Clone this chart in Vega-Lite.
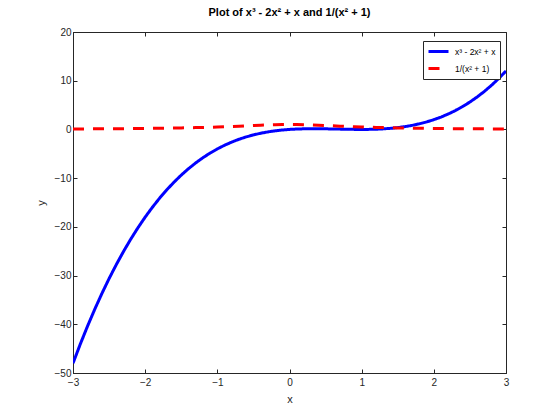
{
  "$schema": "https://vega.github.io/schema/vega-lite/v6.json",
  "width": 433,
  "height": 341,
  "autosize": {"type": "none"},
  "padding": {"left": 73, "top": 32, "right": 54, "bottom": 47},
  "background": "white",
  "title": {
    "text": "Plot of x³ - 2x² + x and 1/(x² + 1)",
    "font": "Liberation Sans",
    "fontSize": 11,
    "fontWeight": "bold",
    "color": "black",
    "anchor": "middle",
    "baseline": "alphabetic",
    "offset": 0
  },
  "config": {
    "view": {"stroke": "#262626", "strokeWidth": 1},
    "axis": {
      "grid": false,
      "domainColor": "#262626",
      "tickColor": "#262626",
      "labelColor": "#262626",
      "titleColor": "#262626",
      "labelFont": "Liberation Sans",
      "titleFont": "Liberation Sans",
      "labelFontSize": 10,
      "titleFontSize": 11,
      "titleFontWeight": "normal",
      "labelFlush": false,
      "tickSize": -4
    }
  },
  "data": {
    "values": [
      {"x": -3.0, "cubic": -48, "recip": 0.1},
      {"x": -2.9, "cubic": -44.109, "recip": 0.106},
      {"x": -2.8, "cubic": -40.432, "recip": 0.113},
      {"x": -2.7, "cubic": -36.963, "recip": 0.121},
      {"x": -2.6, "cubic": -33.696, "recip": 0.129},
      {"x": -2.5, "cubic": -30.625, "recip": 0.138},
      {"x": -2.4, "cubic": -27.744, "recip": 0.148},
      {"x": -2.3, "cubic": -25.047, "recip": 0.159},
      {"x": -2.2, "cubic": -22.528, "recip": 0.171},
      {"x": -2.1, "cubic": -20.181, "recip": 0.185},
      {"x": -2.0, "cubic": -18, "recip": 0.2},
      {"x": -1.9, "cubic": -15.979, "recip": 0.217},
      {"x": -1.8, "cubic": -14.112, "recip": 0.236},
      {"x": -1.7, "cubic": -12.393, "recip": 0.257},
      {"x": -1.6, "cubic": -10.816, "recip": 0.281},
      {"x": -1.5, "cubic": -9.375, "recip": 0.308},
      {"x": -1.4, "cubic": -8.064, "recip": 0.338},
      {"x": -1.3, "cubic": -6.877, "recip": 0.372},
      {"x": -1.2, "cubic": -5.808, "recip": 0.41},
      {"x": -1.1, "cubic": -4.851, "recip": 0.452},
      {"x": -1.0, "cubic": -4, "recip": 0.5},
      {"x": -0.9, "cubic": -3.249, "recip": 0.552},
      {"x": -0.8, "cubic": -2.592, "recip": 0.61},
      {"x": -0.7, "cubic": -2.023, "recip": 0.671},
      {"x": -0.6, "cubic": -1.536, "recip": 0.735},
      {"x": -0.5, "cubic": -1.125, "recip": 0.8},
      {"x": -0.4, "cubic": -0.784, "recip": 0.862},
      {"x": -0.3, "cubic": -0.507, "recip": 0.917},
      {"x": -0.2, "cubic": -0.288, "recip": 0.962},
      {"x": -0.1, "cubic": -0.121, "recip": 0.99},
      {"x": 0.0, "cubic": 0, "recip": 1},
      {"x": 0.1, "cubic": 0.081, "recip": 0.99},
      {"x": 0.2, "cubic": 0.128, "recip": 0.962},
      {"x": 0.3, "cubic": 0.147, "recip": 0.917},
      {"x": 0.4, "cubic": 0.144, "recip": 0.862},
      {"x": 0.5, "cubic": 0.125, "recip": 0.8},
      {"x": 0.6, "cubic": 0.096, "recip": 0.735},
      {"x": 0.7, "cubic": 0.063, "recip": 0.671},
      {"x": 0.8, "cubic": 0.032, "recip": 0.61},
      {"x": 0.9, "cubic": 0.009, "recip": 0.552},
      {"x": 1.0, "cubic": 0, "recip": 0.5},
      {"x": 1.1, "cubic": 0.011, "recip": 0.452},
      {"x": 1.2, "cubic": 0.048, "recip": 0.41},
      {"x": 1.3, "cubic": 0.117, "recip": 0.372},
      {"x": 1.4, "cubic": 0.224, "recip": 0.338},
      {"x": 1.5, "cubic": 0.375, "recip": 0.308},
      {"x": 1.6, "cubic": 0.576, "recip": 0.281},
      {"x": 1.7, "cubic": 0.833, "recip": 0.257},
      {"x": 1.8, "cubic": 1.152, "recip": 0.236},
      {"x": 1.9, "cubic": 1.539, "recip": 0.217},
      {"x": 2.0, "cubic": 2, "recip": 0.2},
      {"x": 2.1, "cubic": 2.541, "recip": 0.185},
      {"x": 2.2, "cubic": 3.168, "recip": 0.171},
      {"x": 2.3, "cubic": 3.887, "recip": 0.159},
      {"x": 2.4, "cubic": 4.704, "recip": 0.148},
      {"x": 2.5, "cubic": 5.625, "recip": 0.138},
      {"x": 2.6, "cubic": 6.656, "recip": 0.129},
      {"x": 2.7, "cubic": 7.803, "recip": 0.121},
      {"x": 2.8, "cubic": 9.072, "recip": 0.113},
      {"x": 2.9, "cubic": 10.469, "recip": 0.106},
      {"x": 3.0, "cubic": 12, "recip": 0.1}
    ]
  },
  "transform": [{"fold": ["cubic", "recip"], "as": ["series", "y"]}],
  "resolve": {"axis": {"x": "independent", "y": "independent"}},
  "layer": [
    {
      "mark": {"type": "line", "strokeWidth": 3, "strokeCap": "butt", "clip": true},
      "encoding": {
        "x": {
          "field": "x",
          "type": "quantitative",
          "scale": {"domain": [-3, 3], "nice": false, "zero": false},
          "axis": {"title": "x", "values": [-3, -2, -1, 0, 1, 2, 3], "labelPadding": 8, "titlePadding": 6}
        },
        "y": {
          "field": "y",
          "type": "quantitative",
          "scale": {"domain": [-50, 20], "nice": false, "zero": false},
          "axis": {"title": "y", "values": [-50, -40, -30, -20, -10, 0, 10, 20], "labelPadding": 6, "titlePadding": 8}
        },
        "color": {
          "field": "series",
          "type": "nominal",
          "scale": {"domain": ["cubic", "recip"], "range": ["#0000ff", "#ff0000"]},
          "legend": {
            "title": null,
            "orient": "none",
            "legendX": 350,
            "legendY": 9,
            "strokeColor": "#262626",
            "fillColor": "white",
            "padding": 4,
            "cornerRadius": 0,
            "symbolType": "M-1,0H3",
            "symbolSize": 100,
            "symbolStrokeWidth": 3,
            "labelFont": "Liberation Sans",
            "labelFontSize": 8.5,
            "labelColor": "black",
            "labelOffset": 15,
            "rowPadding": 4,
            "labelExpr": "datum.value == 'cubic' ? 'x³ - 2x² + x' : '1/(x² + 1)'"
          }
        },
        "strokeDash": {
          "field": "series",
          "type": "nominal",
          "scale": {"domain": ["cubic", "recip"], "range": [[1, 0], [11, 9]]},
          "legend": {
            "title": null,
            "orient": "none",
            "legendX": 350,
            "legendY": 9,
            "labelExpr": "datum.value == 'cubic' ? 'x³ - 2x² + x' : '1/(x² + 1)'"
          }
        }
      }
    },
    {
      "mark": {"type": "line", "opacity": 0},
      "encoding": {
        "x": {
          "field": "x",
          "type": "quantitative",
          "axis": {"orient": "top", "title": null, "labels": false, "domain": false, "values": [-3, -2, -1, 0, 1, 2, 3]}
        },
        "y": {
          "field": "y",
          "type": "quantitative",
          "axis": {"orient": "right", "title": null, "labels": false, "domain": false, "values": [-50, -40, -30, -20, -10, 0, 10, 20]}
        },
        "detail": {"field": "series"}
      }
    }
  ]
}
